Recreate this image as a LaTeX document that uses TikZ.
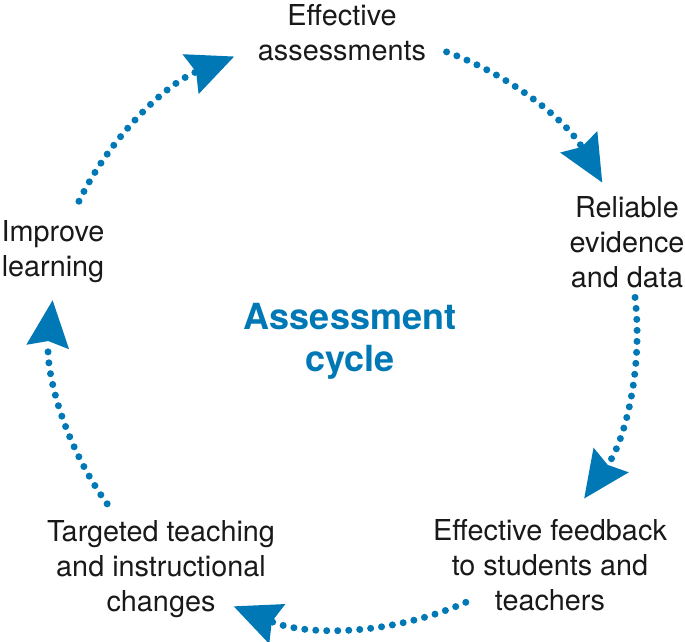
\documentclass[tikz,border=0pt]{standalone}
\usepackage{fontspec}
\setmainfont{TeX Gyre Heros}
\usetikzlibrary{arrows.meta}
\definecolor{cycleblue}{RGB}{0,120,181}

\begin{document}
\begin{tikzpicture}[
  x=1pt,y=1pt,
  stagetext/.style={align=center,inner sep=0pt,text=black!90,
    font=\fontsize{28.8}{35}\selectfont},
  title/.style={align=center,inner sep=0pt,text=cycleblue,
    font=\fontsize{36}{42}\selectfont\bfseries},
  cyclearrow/.style={draw=cycleblue,line width=7pt,line cap=round,
    dash pattern=on 0pt off 11pt,
    -{Stealth[length=47pt,width=43pt,inset=6pt,line width=0pt,fill=cycleblue]}}
]
\useasboundingbox (0,0) rectangle (685,641);
\node[stagetext] (assess) at (342,608) {Effective\\assessments};
\node[stagetext] (evidence) at (627,399) {Reliable\\evidence\\and data};
\node[stagetext] (feedback) at (550,76) {Effective feedback\\to students and\\teachers};
\node[stagetext] (teaching) at (161,72) {Targeted teaching\\and instructional\\changes};
\node[stagetext] (improve) at (53,389) {Improve\\learning};
\node[title] (cycle) at (350,300) {Assessment\\cycle};
\coordinate (hub) at (345,310);
\coordinate (a1) at ([shift={(70:297)}]hub);
\coordinate (a2) at ([shift={(6.6:292)}]hub);
\coordinate (a3) at ([shift={(-66:297)}]hub);
\coordinate (a4) at ([shift={(-144:294)}]hub);
\coordinate (a5) at ([shift={(154:296)}]hub);
\draw[cyclearrow] (a1) arc[start angle=70,end angle=30,radius=297];
\draw[cyclearrow] (a2) arc[start angle=6.6,end angle=-35,radius=292];
\draw[cyclearrow] (a3) arc[start angle=-66,end angle=-112,radius=297];
\draw[cyclearrow] (a4) arc[start angle=-144,end angle=-186,radius=294];
\draw[cyclearrow] (a5) arc[start angle=154,end angle=112,radius=296];
\end{tikzpicture}
\end{document}
